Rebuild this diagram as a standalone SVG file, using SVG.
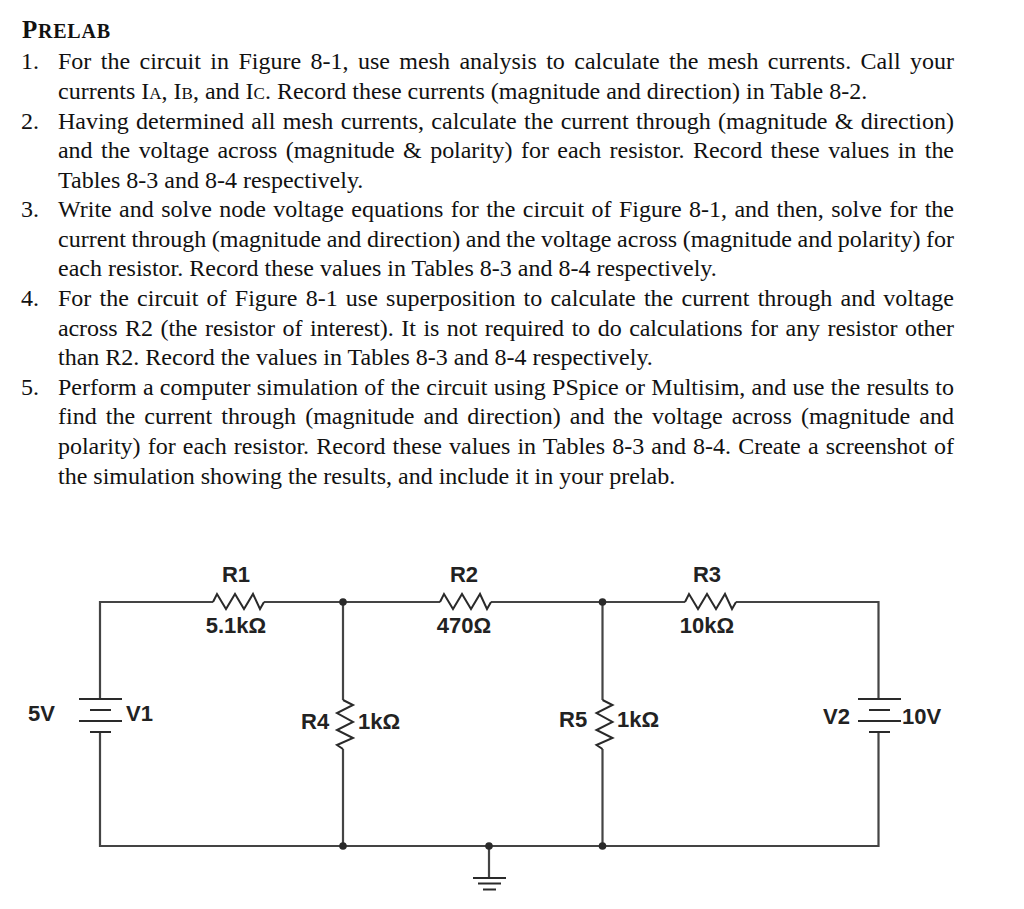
<svg xmlns="http://www.w3.org/2000/svg" width="1024" height="909" viewBox="0 0 1024 909">
<style>
.t{font-family:"Liberation Serif","Times New Roman",serif;font-size:24px;fill:#111}
.h{font-family:"Liberation Serif","Times New Roman",serif;font-size:25px;font-weight:bold;fill:#111}
.h2{font-size:20px}
.s{font-size:17px}
.l{font-family:"Liberation Sans",Arial,sans-serif;font-size:22px;font-weight:bold;fill:#222}
.m{text-anchor:middle}
.w{fill:none;stroke:#444;stroke-width:2.2}
.z{fill:none;stroke:#2a2a2a;stroke-width:2}
.p{fill:none;stroke:#2a2a2a;stroke-width:2.2}
.d{fill:#2a2a2a}
</style>
<rect width="1024" height="909" fill="#fff"/>
<g id="text">
<text class="h" x="22" y="38" textLength="88" lengthAdjust="spacing">P<tspan class="h2">RELAB</tspan></text>
<text class="t" x="21" y="69">1.</text>
<text class="t" x="58" y="69" word-spacing="3.43" textLength="896" lengthAdjust="spacing">For the circuit in Figure 8-1, use mesh analysis to calculate the mesh currents. Call your</text>
<text class="t" x="58" y="98.5">currents I<tspan class="s">A</tspan>, I<tspan class="s">B</tspan>, and I<tspan class="s">C</tspan>. Record these currents (magnitude and direction) in Table 8-2.</text>
<text class="t" x="21" y="128.5">2.</text>
<text class="t" x="58" y="128.5" word-spacing="1.35" textLength="896" lengthAdjust="spacing">Having determined all mesh currents, calculate the current through (magnitude &amp; direction)</text>
<text class="t" x="58" y="158" word-spacing="2.5" textLength="896" lengthAdjust="spacing">and the voltage across (magnitude &amp; polarity) for each resistor. Record these values in the</text>
<text class="t" x="58" y="188">Tables 8-3 and 8-4 respectively.</text>
<text class="t" x="21" y="217">3.</text>
<text class="t" x="58" y="217" word-spacing="1.34" textLength="896" lengthAdjust="spacing">Write and solve node voltage equations for the circuit of Figure 8-1, and then, solve for the</text>
<text class="t" x="58" y="247" word-spacing="-0.42" textLength="896" lengthAdjust="spacing">current through (magnitude and direction) and the voltage across (magnitude and polarity) for</text>
<text class="t" x="58" y="276">each resistor. Record these values in Tables 8-3 and 8-4 respectively.</text>
<text class="t" x="21" y="306">4.</text>
<text class="t" x="58" y="306" word-spacing="2.2" textLength="896" lengthAdjust="spacing">For the circuit of Figure 8-1 use superposition to calculate the current through and voltage</text>
<text class="t" x="58" y="336" word-spacing="1.74" textLength="896" lengthAdjust="spacing">across R2 (the resistor of interest). It is not required to do calculations for any resistor other</text>
<text class="t" x="58" y="365">than R2. Record the values in Tables 8-3 and 8-4 respectively.</text>
<text class="t" x="21" y="395">5.</text>
<text class="t" x="58" y="395" word-spacing="0.27" textLength="896" lengthAdjust="spacing">Perform a computer simulation of the circuit using PSpice or Multisim, and use the results to</text>
<text class="t" x="58" y="424" word-spacing="3.12" textLength="896" lengthAdjust="spacing">find the current through (magnitude and direction) and the voltage across (magnitude and</text>
<text class="t" x="58" y="454" word-spacing="1.2" textLength="896" lengthAdjust="spacing">polarity) for each resistor. Record these values in Tables 8-3 and 8-4. Create a screenshot of</text>
<text class="t" x="58" y="484">the simulation showing the results, and include it in your prelab.</text>
</g>
<g id="connectors">
<path class="w" d="M100 699V602H213M264 602H440M491 602H685M736 602H878.5V699"/>
<path class="w" d="M100 732V846H878.5V732"/>
<path class="w" d="M343 602V700M343 749V846"/>
<path class="w" d="M602.5 602V700M602.5 749V846"/>
<path class="w" d="M489 846V878"/>
</g>
<g id="R1"><path class="z" d="M213 602L217 594L226 609L235 594L244 609L253 594L260 609L264 602"/><text class="l m" x="236" y="582">R1</text><text class="l m" x="236" y="633">5.1kΩ</text></g>
<g id="R2"><path class="z" d="M440 602L444 594L453 609L462 594L471 609L480 594L487 609L491 602"/><text class="l m" x="464" y="582">R2</text><text class="l m" x="464" y="633">470Ω</text></g>
<g id="R3"><path class="z" d="M685 602L689 594L698 609L707 594L716 609L725 594L732 609L736 602"/><text class="l m" x="707" y="582">R3</text><text class="l m" x="707" y="633">10kΩ</text></g>
<g id="R4"><path class="z" d="M343 700L353 705L337 713L353 722L337 730L353 738L337 745L343 749"/><text class="l" x="301" y="729">R4</text><text class="l" x="358" y="729">1kΩ</text></g>
<g id="R5"><path class="z" d="M602.5 700L612.5 705L596.5 713L612.5 722L596.5 730L612.5 738L596.5 745L602.5 749"/><text class="l" x="559" y="727">R5</text><text class="l" x="617" y="727">1kΩ</text></g>
<g id="V1"><path class="p" d="M79 699H122M90 710H111M79 721H122M90 732H111"/><text class="l" x="28" y="720.500">5V</text><text class="l" x="126" y="720.500">V1</text></g>
<g id="V2"><path class="p" d="M858 699H901M869 710H890M858 721H901M869 732H890"/><text class="l" x="823" y="724">V2</text><text class="l" x="902" y="724">10V</text></g>
<g id="J1"><circle class="d" cx="343" cy="602" r="3.8"/></g>
<g id="J2"><circle class="d" cx="602.5" cy="602" r="3.8"/></g>
<g id="J3"><circle class="d" cx="343" cy="846" r="3.8"/></g>
<g id="J4"><circle class="d" cx="602.5" cy="846" r="3.8"/></g>
<g id="J5"><circle class="d" cx="489" cy="846" r="3.8"/></g>
<g id="GND"><path class="p" d="M473 878H506M478 883.5H501M483 889.5H496"/></g>
</svg>
